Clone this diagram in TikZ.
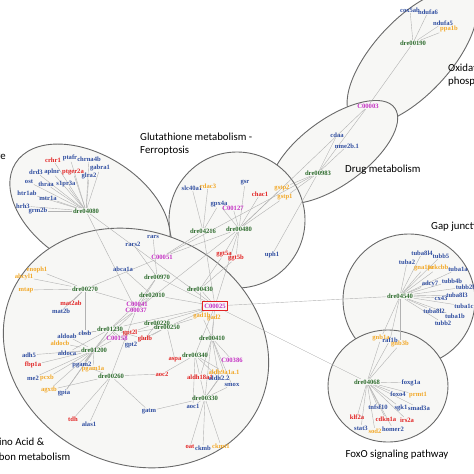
\documentclass[tikz,border=0pt]{standalone}
\usepackage{fontspec}
\setmainfont{Liberation Serif}
\newfontfamily\titlefont{Carlito}
\usetikzlibrary{backgrounds}
\definecolor{pathgreen}{RGB}{46,108,46}
\definecolor{geneblue}{RGB}{48,78,160}
\definecolor{genered}{RGB}{226,36,36}
\definecolor{geneorange}{RGB}{242,168,40}
\definecolor{cpdpink}{RGB}{196,48,196}
\definecolor{ringgray}{RGB}{105,105,105}
\definecolor{areafill}{RGB}{247,247,245}
\definecolor{linkgray}{RGB}{178,178,178}
\tikzset{
    lbl/.style={font=\fontsize{6.6}{7}\selectfont\bfseries, inner sep=0.6pt},
    pwnode/.style={lbl, text=pathgreen},
    bluegene/.style={lbl, text=geneblue},
    redgene/.style={lbl, text=genered},
    orangegene/.style={lbl, text=geneorange},
    cpdnode/.style={lbl, text=cpdpink},
    ptitle/.style={font=\titlefont\fontsize{10.8}{13}\selectfont, align=left, inner sep=0pt},
    pwarea/.style={draw=ringgray, fill=areafill, line width=0.9pt}
}
\begin{document}
\begin{tikzpicture}[x=1pt, y=-1pt]
    \useasboundingbox (0,0) rectangle (474,474);
    \clip (0,0) rectangle (474,474);
    % oxidative phosphorylation
    \node[pwnode] (dre00190) at (413,43) {dre00190};
    \node[bluegene] (cox5ab) at (410,10) {cox5ab};
    \node[bluegene] (ndufa6) at (428,12) {ndufa6};
    \node[bluegene] (ndufa5) at (443,23) {ndufa5};
    \node[orangegene] (ppa1b) at (449,29) {ppa1b};
    \node[cpdnode] (C00003) at (368,106) {C00003};
    % drug metabolism
    \node[bluegene] (cdaa) at (337,135) {cdaa};
    \node[bluegene] (nme2b1) at (347,146) {nme2b.1};
    \node[pwnode] (dre00983) at (318,173) {dre00983};
    % glutathione metabolism - ferroptosis
    \node[bluegene] (slc40a1) at (192,188) {slc40a1};
    \node[orangegene] (rdac3) at (208,186) {rdac3};
    \node[bluegene] (gsr) at (245,183) {gsr};
    \node[redgene] (chac1) at (260,194) {chac1};
    \node[bluegene] (gpx4a) at (219,204) {gpx4a};
    \node[cpdnode] (C00127) at (233,208) {C00127};
    \node[pwnode] (dre04216) at (203,231) {dre04216};
    \node[pwnode] (dre00480) at (239,229) {dre00480};
    \node[orangegene] (gstp2) at (282,188) {gstp2};
    \node[orangegene] (gstp1) at (285,197) {gstp1};
    \node[redgene] (ggt5a) at (224,254) {ggt5a};
    \node[redgene] (ggt5b) at (236,258) {ggt5b};
    \node[bluegene] (uph1) at (272,255) {uph1};
    % neuroactive ligand-receptor interaction
    \node[redgene] (crhr1) at (53,160) {crhr1};
    \node[bluegene] (ptafr) at (70,158) {ptafr};
    \node[bluegene] (chrna4b) at (89,159) {chrna4b};
    \node[bluegene] (gabra1) at (100,168) {gabra1};
    \node[bluegene] (drd3) at (36,172) {drd3};
    \node[bluegene] (aplnr) at (52,172) {aplnr};
    \node[redgene] (ptger2a) at (73,172) {ptger2a};
    \node[bluegene] (glra2) at (89,176) {glra2};
    \node[bluegene] (ost) at (29,182) {ost};
    \node[bluegene] (thraa) at (46,184) {thraa};
    \node[bluegene] (s1pr3a) at (66,184) {s1pr3a};
    \node[bluegene] (htr1ab) at (27,193) {htr1ab};
    \node[bluegene] (mtr1a) at (48,198) {mtr1a};
    \node[bluegene] (hrh3) at (23,206) {hrh3};
    \node[bluegene] (grm2b) at (38,211) {grm2b};
    \node[pwnode] (dre04080) at (86,211) {dre04080};
    % amino acid and carbon metabolism
    \node[bluegene] (rars) at (153,237) {rars};
    \node[bluegene] (rars2) at (133,244) {rars2};
    \node[bluegene] (abca1a) at (123,269) {abca1a};
    \node[orangegene] (enoph1) at (37,270) {enoph1};
    \node[orangegene] (ahcyl1) at (24,277) {ahcyl1};
    \node[orangegene] (mtap) at (26,290) {mtap};
    \node[pwnode] (dre00270) at (85,289) {dre00270};
    \node[redgene] (mat2ab) at (71,303) {mat2ab};
    \node[bluegene] (mat2b) at (61,311) {mat2b};
    \node[cpdnode] (C00051) at (162,257) {C00051};
    \node[pwnode] (dre00970) at (157,277) {dre00970};
    \node[pwnode] (dre02010) at (152,295) {dre02010};
    \node[cpdnode] (C00041) at (137,304) {C00041};
    \node[cpdnode] (C00037) at (136,310) {C00037};
    \node[pwnode] (dre01230) at (110,329) {dre01230};
    \node[bluegene] (cbsb) at (85,333) {cbsb};
    \node[bluegene] (aldoab) at (67,336) {aldoab};
    \node[pwnode] (dre00220) at (157,323) {dre00220};
    \node[pwnode] (dre00250) at (167,327) {dre00250};
    \node[redgene] (gpt2l) at (130,333) {gpt2l};
    \node[redgene] (glulb) at (145,339) {glulb};
    \node[bluegene] (gpt2) at (131,345) {gpt2};
    \node[cpdnode] (C00158) at (117,338) {C00158};
    \node[orangegene] (aldocb) at (60,343) {aldocb};
    \node[bluegene] (aldoca) at (67,353) {aldoca};
    \node[pwnode] (dre01200) at (94,350) {dre01200};
    \node[bluegene] (adh5) at (29,355) {adh5};
    \node[redgene] (fbp1a) at (33,365) {fbp1a};
    \node[bluegene] (pgam2) at (82,365) {pgam2};
    \node[orangegene] (pgam1a) at (93,369) {pgam1a};
    \node[pwnode] (dre00260) at (111,376) {dre00260};
    \node[bluegene] (me2) at (33,378) {me2};
    \node[orangegene] (pcxb) at (47,378) {pcxb};
    \node[orangegene] (agxtb) at (49,390) {agxtb};
    \node[bluegene] (gpia) at (64,393) {gpia};
    \node[redgene] (tdh) at (73,419) {tdh};
    \node[bluegene] (alas1) at (89,424) {alas1};
    \node[bluegene] (gatm) at (149,411) {gatm};
    \node[redgene] (aoc2) at (162,374) {aoc2};
    \node[redgene] (aspa) at (175,360) {aspa};
    \node[pwnode] (dre00340) at (195,355) {dre00340};
    \node[pwnode] (dre00410) at (212,338) {dre00410};
    \node[cpdnode] (C00386) at (232,360) {C00386};
    \node[redgene] (aldh18a1) at (200,377) {aldh18a1};
    \node[bluegene] (aldh22) at (219,378) {aldh2.2};
    \node[orangegene] (aldh9a1a) at (224,372) {aldh9a1a.1};
    \node[bluegene] (smox) at (232,385) {smox};
    \node[pwnode] (dre00330) at (205,398) {dre00330};
    \node[bluegene] (aoc1) at (193,406) {aoc1};
    \node[redgene] (oat) at (190,447) {oat};
    \node[bluegene] (ckmb) at (203,448) {ckmb};
    \node[orangegene] (ckmt1) at (221,446) {ckmt1};
    \node[pwnode] (dre00430) at (200,289) {dre00430};
    \node[orangegene] (gad1b) at (202,316) {gad1b};
    \node[orangegene] (gad2) at (214,318) {gad2};
    \node[cpdnode, draw=genered, line width=1.1pt, inner sep=2pt] (C00025) at (215,306) {C00025};
    % gap junction
    \node[bluegene] (tuba8l4) at (422,253) {tuba8l4};
    \node[bluegene] (tubb5) at (441,256) {tubb5};
    \node[bluegene] (tuba2) at (407,262) {tuba2};
    \node[orangegene] (gna11a) at (424,268) {gna11a};
    \node[orangegene] (prkcbb) at (438,268) {prkcbb};
    \node[bluegene] (tuba1a) at (458,269) {tuba1a};
    \node[bluegene] (adcy7) at (430,284) {adcy7};
    \node[bluegene] (tubb4b) at (452,281) {tubb4b};
    \node[bluegene] (tubb2b) at (466,287) {tubb2b};
    \node[pwnode] (dre04540) at (400,296) {dre04540};
    \node[bluegene] (cx43) at (441,298) {cx43};
    \node[bluegene] (tuba8l3) at (457,295) {tuba8l3};
    \node[bluegene] (tuba1c) at (464,306) {tuba1c};
    \node[bluegene] (tuba8l2) at (434,311) {tuba8l2};
    \node[bluegene] (tuba1b) at (455,316) {tuba1b};
    \node[bluegene] (tubb2) at (443,323) {tubb2};
    % foxo signaling pathway
    \node[orangegene] (gnb1a) at (381,338) {gnb1a};
    \node[bluegene] (raf1b) at (390,340) {raf1b};
    \node[orangegene] (gnb3b) at (400,344) {gnb3b};
    \node[pwnode] (dre04068) at (367,382) {dre04068};
    \node[bluegene] (foxg1a) at (411,383) {foxg1a};
    \node[bluegene] (foxo4) at (398,394) {foxo4};
    \node[orangegene] (prmt1) at (418,395) {prmt1};
    \node[bluegene] (tnfsf10) at (378,407) {tnfsf10};
    \node[bluegene] (sgk1) at (401,408) {sgk1};
    \node[bluegene] (smad3a) at (419,408) {smad3a};
    \node[redgene] (klf2a) at (357,417) {klf2a};
    \node[redgene] (cdkn1a) at (386,419) {cdkn1a};
    \node[redgene] (irs2a) at (407,420) {irs2a};
    \node[bluegene] (stat3) at (361,428) {stat3};
    \node[orangegene] (sod2) at (375,431) {sod2};
    \node[bluegene] (homer2) at (393,429) {homer2};
    % pathway titles
    \node[ptitle, anchor=east] (tneuro) at (6,156) {Neuroactive};
    \node[ptitle, anchor=west] (tgsh) at (140,144) {Glutathione metabolism -\\Ferroptosis};
    \node[ptitle, anchor=west] (tdrug) at (345,170) {Drug metabolism};
    \node[ptitle, anchor=west] (toxphos) at (448,75) {Oxidative\\phosphorylation};
    \node[ptitle, anchor=west] (tgap) at (431,227) {Gap junction};
    \node[ptitle] (tfoxo) at (397,455) {FoxO signaling pathway};
    \node[ptitle, anchor=west, font=\titlefont\fontsize{10.8}{15}\selectfont] (tamino) at (-16,449) {Amino Acid \&\\Carbon metabolism};
    \begin{scope}[on background layer]
        \draw[pwarea, rotate around={47:(412,57)}] (412,57) ellipse [x radius=86pt, y radius=38pt];
        \draw[pwarea, rotate around={36:(334,152)}] (334,152) ellipse [x radius=75pt, y radius=33pt];
        \draw[pwarea] (237,220) circle [radius=68pt];
        \draw[pwarea, rotate around={-32:(90,210)}] (90,210) ellipse [x radius=88pt, y radius=55pt];
        \draw[pwarea, rotate around={-25:(136,348)}] (136,348) ellipse [x radius=136pt, y radius=116pt];
        \draw[pwarea] (409,300) circle [radius=66pt];
        \draw[pwarea] (388,386) ellipse [x radius=60pt, y radius=56pt];
    \end{scope}
    \begin{scope}[on background layer, every edge/.style={draw=linkgray, line width=0.4pt}]
        \path
            (dre00190) edge (cox5ab) edge (ndufa6) edge (ndufa5) edge (ppa1b) edge (C00003)
            (dre00983) edge (cdaa) edge (nme2b1) edge (gstp2) edge (gstp1) edge (C00003)
                edge (uph1) edge (C00051)
            (C00003) edge (dre00480)
            (dre00480) edge (gsr) edge (chac1) edge (gpx4a) edge (C00127) edge (gstp2)
                edge (gstp1) edge (ggt5a) edge (ggt5b) edge (C00051) edge (C00025) edge (C00037)
            (dre04216) edge (slc40a1) edge (rdac3) edge (gpx4a) edge (C00051) edge (C00025)
            (dre04080) edge (crhr1) edge (ptafr) edge (chrna4b) edge (gabra1) edge (drd3)
                edge (aplnr) edge (ptger2a) edge (glra2) edge (ost) edge (thraa) edge (s1pr3a)
                edge (htr1ab) edge (mtr1a) edge (hrh3) edge (grm2b) edge (C00025) edge (C00037)
            (dre00970) edge (rars) edge (rars2) edge (C00025) edge (C00037) edge (C00041)
            (dre02010) edge (abca1a) edge (C00025) edge (C00037) edge (C00041)
            (dre00270) edge (enoph1) edge (ahcyl1) edge (mtap) edge (mat2ab) edge (mat2b)
                edge (cbsb) edge (C00051) edge (C00041)
            (dre01230) edge (cbsb) edge (aldoab) edge (aldoca) edge (pgam2) edge (gpia)
                edge (C00041) edge (C00037) edge (C00025) edge (gpt2l) edge (gpt2) edge (glulb)
                edge (C00158)
            (dre01200) edge (aldocb) edge (aldoca) edge (aldoab) edge (adh5) edge (fbp1a)
                edge (pgam2) edge (pgam1a) edge (me2) edge (pcxb) edge (agxtb) edge (gpia)
                edge (C00158) edge (C00037)
            (dre00220) edge (C00025) edge (glulb) edge (gpt2l)
            (dre00250) edge (gpt2l) edge (gpt2) edge (glulb) edge (C00025) edge (gad1b) edge (aspa)
            (dre00260) edge (agxtb) edge (tdh) edge (alas1) edge (gatm) edge (pgam2)
                edge (pgam1a) edge (C00037) edge (aoc2)
            (dre00330) edge (gatm) edge (aoc1) edge (oat) edge (ckmb) edge (ckmt1)
                edge (aldh18a1) edge (aldh22) edge (aldh9a1a) edge (smox) edge (C00025)
            (dre00340) edge (aspa) edge (aoc2) edge (aoc1) edge (aldh18a1) edge (aldh22)
                edge (aldh9a1a) edge (C00025)
            (dre00410) edge (C00386) edge (aldh18a1) edge (aldh22) edge (aldh9a1a)
                edge (smox) edge (gad1b) edge (gad2)
            (dre00430) edge (ggt5a) edge (ggt5b) edge (gad1b) edge (C00025)
            (C00025) edge (dre04540) edge (dre04068)
            (dre04540) edge (tuba8l4) edge (tubb5) edge (tuba2) edge (gna11a) edge (prkcbb)
                edge (tuba1a) edge (adcy7) edge (tubb4b) edge (tubb2b) edge (cx43)
                edge (tuba8l3) edge (tuba1c) edge (tuba8l2) edge (tuba1b) edge (tubb2)
                edge (gnb1a) edge (raf1b) edge (gnb3b)
            (dre04068) edge (gnb1a) edge (raf1b) edge (gnb3b) edge (foxg1a) edge (foxo4)
                edge (prmt1) edge (tnfsf10) edge (sgk1) edge (smad3a) edge (klf2a)
                edge (cdkn1a) edge (irs2a) edge (stat3) edge (sod2) edge (homer2);
    \end{scope}
\end{tikzpicture}
\end{document}
